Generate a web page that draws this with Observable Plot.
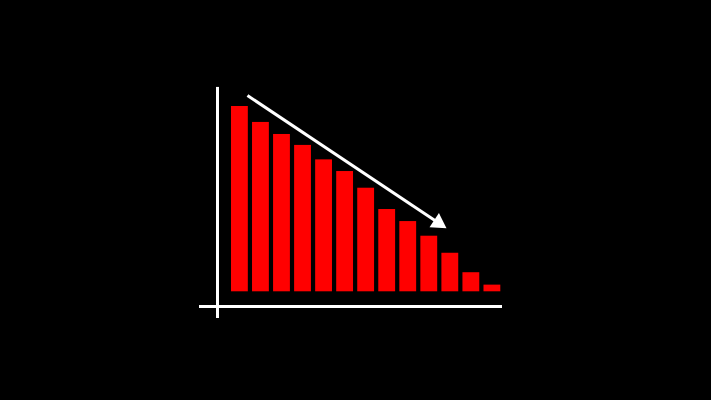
<!DOCTYPE html>
<html>
<head>
<meta charset="utf-8">
<script src="https://cdn.jsdelivr.net/npm/d3@7"></script>
<script src="https://cdn.jsdelivr.net/npm/@observablehq/plot@0.6"></script>
<style>
  html, body { margin: 0; padding: 0; background: #000; }
  #chart svg { display: block; }
</style>
</head>
<body>
<div id="chart"></div>
<script>
// Data: bar index and relative value (tallest = 100)
const categories = [0, 1, 2, 3, 4, 5, 6, 7, 8, 9, 10, 11, 12];
const values = [100, 91.4, 84.9, 79.0, 71.2, 64.9, 55.9, 44.4, 37.9, 30.0, 20.8, 10.3, 3.6];

// Decorative trend arrow (in data units)
const arrowFrom = {x: 0.36, y: 105.9};
const arrowTo = {x: 9.43, y: 37.2};

const bars = categories.map((c, i) => ({i: c, v: values[i]}));

const chart = Plot.plot({
  width: 711,
  height: 400,
  margin: 0,
  style: {background: "#000"},
  x: {type: "linear", domain: [-1.92, 12.48], range: [199, 502], axis: null},
  y: {type: "linear", domain: [0, 100], range: [291.3, 106], axis: null},
  marks: [
    Plot.rectY(bars, {x1: d => d.i - 0.4, x2: d => d.i + 0.4, y1: 0, y2: "v", fill: "#ff0000"}),
    Plot.ruleY([-7.9], {x1: -1.92, x2: 12.48, stroke: "#fff", strokeWidth: 3}),
    Plot.ruleX([-1.065], {y1: -14.4, y2: 110.3, stroke: "#fff", strokeWidth: 3}),
    Plot.link([{a: arrowFrom, b: arrowTo}], {x1: d => d.a.x, y1: d => d.a.y, x2: d => d.b.x, y2: d => d.b.y, stroke: "#fff", strokeWidth: 3}),
    Plot.dot([arrowTo], {x: "x", y: "y", symbol: "triangle", r: 6.3, fill: "#fff", stroke: "none", rotate: 123.5})
  ]
});
document.getElementById("chart").append(chart);
</script>
</body>
</html>
